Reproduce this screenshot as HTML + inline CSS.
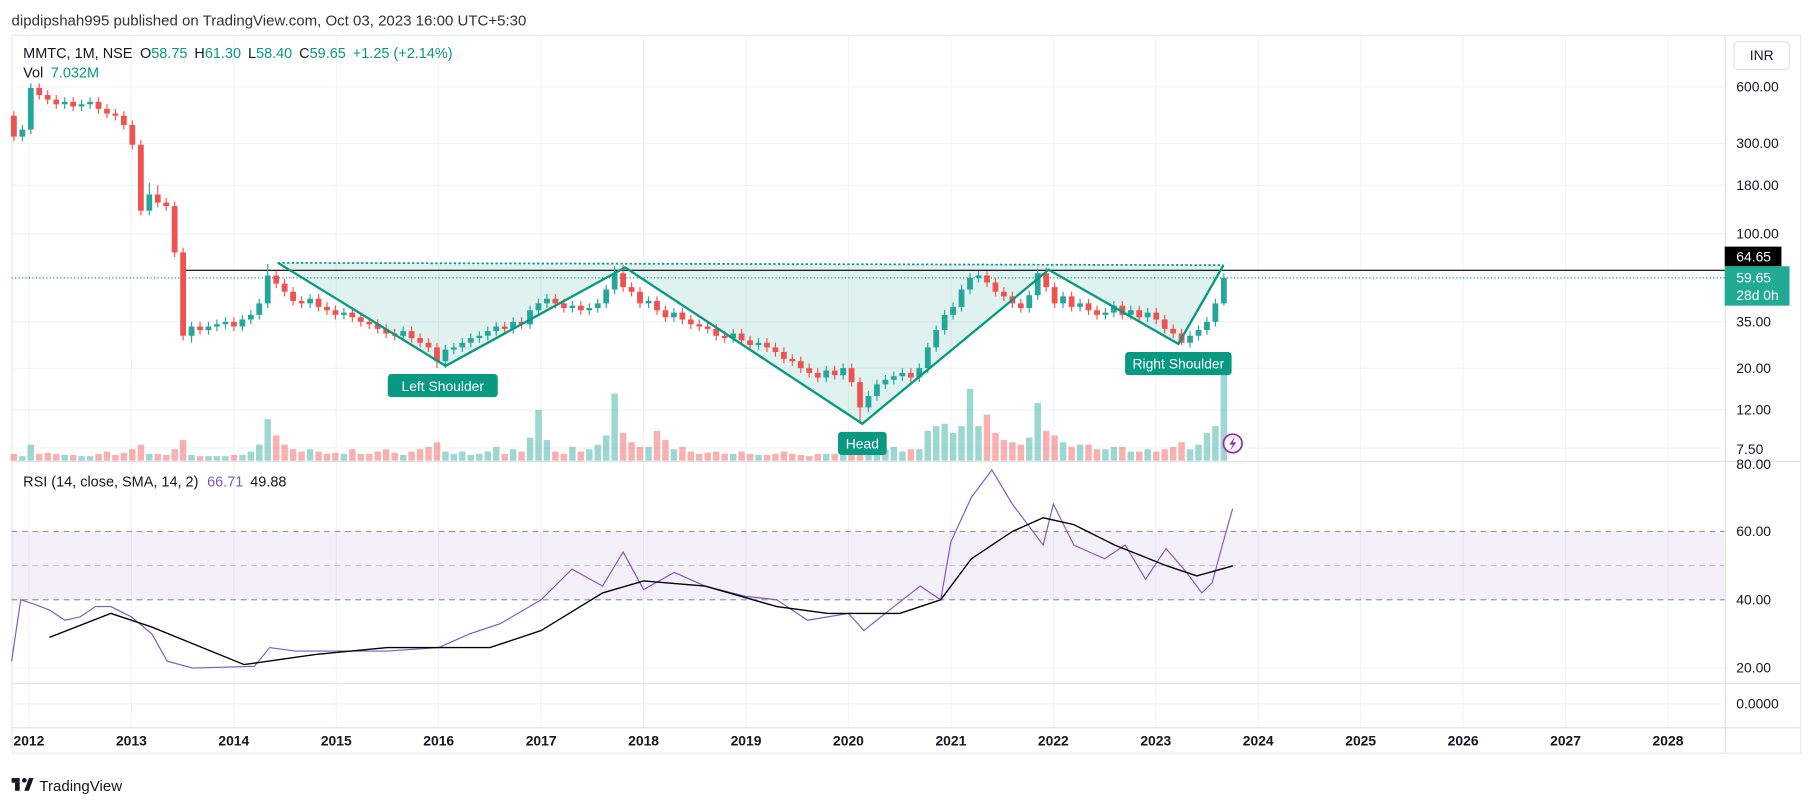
<!DOCTYPE html>
<html><head><meta charset="utf-8"><style>
html,body{margin:0;padding:0;background:#fff;}
svg{display:block;font-family:"Liberation Sans",sans-serif;}
</style></head><body>
<svg width="1815" height="807" viewBox="0 0 1568 697" preserveAspectRatio="none" xmlns="http://www.w3.org/2000/svg">
<rect width="1568" height="697" fill="#fff"/>
<text x="10" y="22" font-size="13" fill="#333">dipdipshah995 published on TradingView.com, Oct 03, 2023 16:00 UTC+5:30</text>
<rect x="10.5" y="30.5" width="1545" height="620" fill="none" stroke="#e6e9ef"/>
<g stroke="#f0f3fa" stroke-width="1">
<path d="M25,30V628M113.5,30V628M202,30V628M290.5,30V628M379,30V628M467.5,30V628M556,30V628M644.5,30V628M733,30V628M821.5,30V628M910,30V628M998.5,30V628M1087,30V628M1175.5,30V628M1264,30V628M1352.5,30V628M1441,30V628"/>
<path d="M10,75H1490M10,124H1490M10,160H1490M10,202H1490M10,278H1490M10,318H1490M10,354H1490M10,387H1490M10,577H1490M10,608H1490"/>
</g>
<rect x="10" y="459" width="1480" height="59" fill="#7e57c2" fill-opacity="0.09"/>
<g stroke="#9598a1" stroke-dasharray="5,4" stroke-width="1">
<line x1="10" y1="459" x2="1490" y2="459"/><line x1="10" y1="488.5" x2="1490" y2="488.5" stroke-opacity="0.5"/><line x1="10" y1="518" x2="1490" y2="518"/>
</g>
<path fill="none" stroke="#26a69a" stroke-opacity="0.45" stroke-width="5.6" d="M19.3,398v-4 M26.6,398v-14 M55.9,398v-5 M70.5,398v-4 M77.8,398v-4 M129,398v-6 M165.5,398v-5 M180.1,398v-4 M187.4,398v-4 M194.8,398v-4 M209.4,398v-5 M216.7,398v-8 M224,398v-14 M231.3,398v-36 M267.9,398v-10 M297.1,398v-6 M348.3,398v-5 M384.8,398v-8 M392.1,398v-6 M399.4,398v-8 M406.7,398v-5 M414.1,398v-6 M421.4,398v-8 M428.7,398v-12 M443.3,398v-10 M457.9,398v-20 M465.2,398v-44 M472.5,398v-18 M494.5,398v-12 M509.1,398v-10 M516.4,398v-14 M523.7,398v-22 M531,398v-58 M560.3,398v-12 M582.2,398v-10 M633.4,398v-6 M655.3,398v-5 M713.8,398v-6 M728.4,398v-8 M750.3,398v-24 M757.6,398v-14 M764.9,398v-10 M772.2,398v-12 M779.6,398v-8 M794.2,398v-10 M801.5,398v-26 M808.8,398v-30 M816.1,398v-32 M823.4,398v-24 M830.7,398v-30 M838,398v-62 M845.3,398v-30 M889.2,398v-20 M896.5,398v-50 M918.4,398v-16 M933.1,398v-14 M955,398v-10 M962.3,398v-12 M976.9,398v-8 M991.5,398v-10 M1028.1,398v-10 M1035.4,398v-14 M1042.7,398v-24 M1050,398v-30 M1057.3,398v-78"/>
<path fill="none" stroke="#ef5350" stroke-opacity="0.45" stroke-width="5.6" d="M12,398v-6 M33.9,398v-6 M41.2,398v-7 M48.6,398v-6 M63.2,398v-5 M85.1,398v-6 M92.4,398v-8 M99.7,398v-5 M107,398v-7 M114.3,398v-10 M121.7,398v-14 M136.3,398v-6 M143.6,398v-5 M150.9,398v-10 M158.2,398v-18 M172.8,398v-4 M202.1,398v-5 M238.6,398v-22 M245.9,398v-14 M253.2,398v-10 M260.5,398v-8 M275.2,398v-8 M282.5,398v-6 M289.8,398v-7 M304.4,398v-10 M311.7,398v-6 M319,398v-6 M326.3,398v-8 M333.6,398v-10 M341,398v-7 M355.6,398v-8 M362.9,398v-10 M370.2,398v-12 M377.5,398v-16 M436,398v-6 M450.6,398v-8 M479.8,398v-8 M487.2,398v-6 M501.8,398v-8 M538.3,398v-24 M545.6,398v-16 M552.9,398v-12 M567.6,398v-26 M574.9,398v-18 M589.5,398v-12 M596.8,398v-8 M604.1,398v-6 M611.4,398v-7 M618.7,398v-8 M626,398v-6 M640.7,398v-8 M648,398v-6 M662.6,398v-5 M669.9,398v-6 M677.2,398v-8 M684.5,398v-6 M691.8,398v-5 M699.1,398v-4 M706.5,398v-6 M721.1,398v-6 M735.7,398v-10 M743,398v-20 M786.9,398v-10 M852.7,398v-40 M860,398v-24 M867.3,398v-18 M874.6,398v-16 M881.9,398v-14 M903.8,398v-26 M911.1,398v-22 M925.8,398v-12 M940.4,398v-14 M947.7,398v-10 M969.6,398v-12 M984.2,398v-8 M998.9,398v-8 M1006.2,398v-10 M1013.5,398v-12 M1020.8,398v-16"/>
<polygon points="240,227 385,316 540,231 745,366 906,233 1018,297 1057,229" fill="#089981" fill-opacity="0.13"/>
<line x1="240" y1="227" x2="1057" y2="229" stroke="#089981" stroke-width="1.5" stroke-dasharray="2,2"/>
<line x1="160" y1="233.5" x2="1490" y2="233.5" stroke="#000" stroke-width="1"/>
<line x1="10" y1="240" x2="1490" y2="240" stroke="#089981" stroke-width="1" stroke-dasharray="1,2"/>
<path fill="none" stroke="#26a69a" stroke-width="1" d="M19.3,108V122 M26.6,72V116 M55.9,84V94 M70.5,86V96 M77.8,84V94 M129,158V186 M165.5,278V296 M180.1,278V289 M187.4,276V286 M194.8,274V284 M209.4,272V286 M216.7,268V280 M224,258V276 M231.3,228V266 M267.9,254V266 M297.1,266V276 M348.3,282V294 M384.8,298V318 M392.1,296V306 M399.4,292V304 M406.7,288V300 M414.1,286V296 M421.4,282V294 M428.7,278V290 M443.3,274V288 M457.9,264V284 M465.2,258V272 M472.5,254V266 M494.5,260V270 M509.1,262V272 M516.4,258V270 M523.7,246V266 M531,230V254 M560.3,256V266 M582.2,266V278 M633.4,284V296 M655.3,292V302 M713.8,316V330 M728.4,314V328 M750.3,338V356 M757.6,328V346 M764.9,324V336 M772.2,321V332 M779.6,318V329 M794.2,314V330 M801.5,296V322 M808.8,281V304 M816.1,268V289 M823.4,261V276 M830.7,246V269 M838,236V254 M845.3,234V244 M889.2,251V270 M896.5,232V259 M918.4,252V266 M933.1,258V269 M955,266V276 M962.3,260V274 M976.9,264V276 M991.5,266V278 M1028.1,286V300 M1035.4,281V294 M1042.7,274V289 M1050,258V282 M1057.3,236V264"/>
<path fill="none" stroke="#26a69a" stroke-width="5" d="M19.3,112V118 M26.6,76V112 M55.9,88V90 M70.5,90V92 M77.8,88V90 M129,168V182 M165.5,282V290 M180.1,282V285 M187.4,280V282 M194.8,278V280 M209.4,276V282 M216.7,272V276 M224,262V272 M231.3,238V262 M267.9,258V262 M297.1,270V272 M348.3,286V290 M384.8,302V312 M392.1,300V302 M399.4,296V300 M406.7,292V296 M414.1,290V292 M421.4,286V290 M428.7,282V286 M443.3,278V284 M457.9,268V280 M465.2,262V268 M472.5,258V262 M494.5,264V266 M509.1,266V268 M516.4,262V266 M523.7,250V262 M531,236V250 M560.3,260V262 M582.2,270V274 M633.4,288V292 M655.3,296V298 M713.8,320V326 M728.4,318V324 M750.3,342V352 M757.6,332V342 M764.9,328V332 M772.2,325V328 M779.6,322V325 M794.2,318V326 M801.5,300V318 M808.8,285V300 M816.1,272V285 M823.4,265V272 M830.7,250V265 M838,240V250 M845.3,238V240 M889.2,255V266 M896.5,236V255 M918.4,256V262 M933.1,262V265 M955,270V272 M962.3,264V270 M976.9,268V272 M991.5,270V274 M1028.1,290V296 M1035.4,285V290 M1042.7,278V285 M1050,262V278 M1057.3,240V262"/>
<path fill="none" stroke="#ef5350" stroke-width="1" d="M12,96V122 M33.9,72V86 M41.2,78V90 M48.6,82V94 M63.2,84V96 M85.1,84V98 M92.4,90V102 M99.7,94V104 M107,96V112 M114.3,104V129 M121.7,121V186 M136.3,160V179 M143.6,171V182 M150.9,174V222 M158.2,214V294 M172.8,278V289 M202.1,274V286 M238.6,234V249 M245.9,241V256 M253.2,248V264 M260.5,256V266 M275.2,254V269 M282.5,261V272 M289.8,264V276 M304.4,266V278 M311.7,270V282 M319,274V284 M326.3,276V288 M333.6,280V292 M341,284V294 M355.6,282V296 M362.9,288V300 M370.2,292V304 M377.5,296V318 M436,278V288 M450.6,274V284 M479.8,254V266 M487.2,258V270 M501.8,260V272 M538.3,229V252 M545.6,244V256 M552.9,248V266 M567.6,256V272 M574.9,264V278 M589.5,266V280 M596.8,272V284 M604.1,276V286 M611.4,278V288 M618.7,280V294 M626,286V296 M640.7,284V298 M648,290V302 M662.6,292V304 M669.9,296V308 M677.2,300V314 M684.5,306V316 M691.8,308V322 M699.1,314V326 M706.5,318V330 M721.1,316V328 M735.7,314V334 M743,326V366 M786.9,318V330 M852.7,234V248 M860,240V256 M867.3,248V260 M874.6,252V266 M881.9,258V270 M903.8,231V252 M911.1,244V266 M925.8,252V269 M940.4,258V272 M947.7,264V276 M969.6,260V276 M984.2,264V278 M998.9,266V280 M1006.2,272V288 M1013.5,280V292 M1020.8,284V298"/>
<path fill="none" stroke="#ef5350" stroke-width="5" d="M12,100V118 M33.9,76V82 M41.2,82V86 M48.6,86V90 M63.2,88V92 M85.1,88V94 M92.4,94V98 M99.7,98V100 M107,100V108 M114.3,108V125 M121.7,125V182 M136.3,168V175 M143.6,175V178 M150.9,178V218 M158.2,218V290 M172.8,282V285 M202.1,278V282 M238.6,238V245 M245.9,245V252 M253.2,252V260 M260.5,260V262 M275.2,258V265 M282.5,265V268 M289.8,268V272 M304.4,270V274 M311.7,274V278 M319,278V280 M326.3,280V284 M333.6,284V288 M341,288V290 M355.6,286V292 M362.9,292V296 M370.2,296V300 M377.5,300V312 M436,282V284 M450.6,278V280 M479.8,258V262 M487.2,262V266 M501.8,264V268 M538.3,236V248 M545.6,248V252 M552.9,252V262 M567.6,260V268 M574.9,268V274 M589.5,270V276 M596.8,276V280 M604.1,280V282 M611.4,282V284 M618.7,284V290 M626,290V292 M640.7,288V294 M648,294V298 M662.6,296V300 M669.9,300V304 M677.2,304V310 M684.5,310V312 M691.8,312V318 M699.1,318V322 M706.5,322V326 M721.1,320V324 M735.7,318V330 M743,330V352 M786.9,322V326 M852.7,238V244 M860,244V252 M867.3,252V256 M874.6,256V262 M881.9,262V266 M903.8,236V248 M911.1,248V262 M925.8,256V265 M940.4,262V268 M947.7,268V272 M969.6,264V272 M984.2,268V274 M998.9,270V276 M1006.2,276V284 M1013.5,284V288 M1020.8,288V296"/>
<polyline points="240,227 385,316 540,231 745,366 906,233 1018,297 1057,229" fill="none" stroke="#089981" stroke-width="2"/>
<rect x="335" y="323" width="95" height="20" rx="3" fill="#089981"/>
<text x="382.5" y="337.5" font-size="12" fill="#fff" text-anchor="middle">Left Shoulder</text>
<rect x="724" y="373" width="42" height="20" rx="3" fill="#089981"/>
<text x="745" y="387.5" font-size="12" fill="#fff" text-anchor="middle">Head</text>
<rect x="972" y="304" width="92" height="20" rx="3" fill="#089981"/>
<text x="1018" y="318.5" font-size="12" fill="#fff" text-anchor="middle">Right Shoulder</text>
<circle cx="1065" cy="383" r="8" fill="#fff" stroke="#9c27b0" stroke-width="1.5"/>
<path d="M1067,377 L1062,384 L1065,384 L1063,389 L1068,382 L1065,382 Z" fill="#9c27b0"/>
<polyline fill="none" stroke="#7e57c2" stroke-width="1" points="10,571.1 17.9,518 30,522 42.7,526.9 56,535.7 69.3,532.8 82.5,523.9 95.8,523.9 113.5,532.8 131.2,547.5 144.5,571.1 166.6,577 219.7,575.5 233,559.3 255.1,562.3 290.5,562.3 334.8,562.3 379,559.3 405.6,547.5 432.1,538.7 467.5,518 494.1,491.5 520.6,506.2 538.3,476.7 556,509.2 582.6,494.4 609.1,506.2 644.5,515.1 671.1,518 697.6,535.7 733,529.8 746.3,544.6 768.4,526.9 795,506.2 812.7,518 821.5,467.9 839.2,429.5 856.9,405.9 874.6,435.4 901.2,470.8 910,435.4 927.7,470.8 954.3,482.6 972,470.8 989.7,500.3 1007.4,473.8 1025.1,494.4 1038.3,512.1 1047.2,503.3 1056,470.8 1064.9,439.2"/>
<polyline fill="none" stroke="#000" stroke-width="1.2" points="42.7,550.5 95.8,529.8 131.2,541.6 210.9,574 272.8,565.2 334.8,559.3 423.3,559.3 467.5,544.6 520.6,512.1 556,501.8 609.1,506.2 671.1,523.9 715.3,529.8 777.3,529.8 812.7,518 839.2,482.6 874.6,459 901.2,447.2 927.7,453.1 963.1,470.8 1007.4,488.5 1033.9,497.4 1064.9,488.8"/>
<line x1="10" y1="398.5" x2="1555" y2="398.5" stroke="#e0e3eb"/>
<line x1="10" y1="590.5" x2="1555" y2="590.5" stroke="#e0e3eb"/>
<line x1="10" y1="628.5" x2="1555" y2="628.5" stroke="#e0e3eb"/>
<line x1="1490.5" y1="30" x2="1490.5" y2="650" stroke="#e0e3eb"/>
<rect x="1498" y="36" width="48" height="24" rx="4" fill="#fff" stroke="#e0e3eb"/>
<text x="1522" y="52" font-size="12" fill="#131722" text-anchor="middle">INR</text>
<g font-size="12" fill="#131722">
<text x="1500" y="79">600.00</text><text x="1500" y="128">300.00</text><text x="1500" y="164">180.00</text><text x="1500" y="206">100.00</text>
<text x="1500" y="282">35.00</text><text x="1500" y="322">20.00</text><text x="1500" y="358">12.00</text><text x="1500" y="392">7.50</text>
<text x="1500" y="405">80.00</text><text x="1500" y="463">60.00</text><text x="1500" y="522">40.00</text><text x="1500" y="581">20.00</text>
<text x="1500" y="612">0.0000</text>
</g>
<rect x="1490" y="213" width="49" height="17" fill="#000"/>
<text x="1500" y="226" font-size="12" fill="#fff">64.65</text>
<rect x="1490" y="230" width="56" height="34" fill="#22ab94"/>
<text x="1500" y="244" font-size="12" fill="#fff">59.65</text>
<text x="1500" y="259" font-size="12" fill="#fff">28d 0h</text>
<g font-size="12" font-weight="bold" fill="#131722" text-anchor="middle">
<text x="25" y="644">2012</text><text x="113.5" y="644">2013</text><text x="202" y="644">2014</text><text x="290.5" y="644">2015</text><text x="379" y="644">2016</text><text x="467.5" y="644">2017</text><text x="556" y="644">2018</text><text x="644.5" y="644">2019</text><text x="733" y="644">2020</text><text x="821.5" y="644">2021</text><text x="910" y="644">2022</text><text x="998.5" y="644">2023</text><text x="1087" y="644">2024</text><text x="1175.5" y="644">2025</text><text x="1264" y="644">2026</text><text x="1352.5" y="644">2027</text><text x="1441" y="644">2028</text>
</g>
<text x="20" y="50" font-size="12.5" fill="#131722">MMTC, 1M, NSE <tspan dx="3">O</tspan><tspan fill="#089981">58.75</tspan><tspan dx="6">H</tspan><tspan fill="#089981">61.30</tspan><tspan dx="6">L</tspan><tspan fill="#089981">58.40</tspan><tspan dx="6">C</tspan><tspan fill="#089981">59.65</tspan><tspan dx="6" fill="#089981">+1.25 (+2.14%)</tspan></text>
<text x="20" y="67" font-size="12.5" fill="#131722">Vol <tspan dx="3" fill="#089981">7.032M</tspan></text>
<text x="20" y="420" font-size="12.5" fill="#131722">RSI (14, close, SMA, 14, 2) <tspan dx="4" fill="#7e57c2">66.71</tspan><tspan dx="6">49.88</tspan></text>
<g transform="translate(10,672)"><rect x="0" y="0" width="7" height="4" fill="#131722"/><rect x="3" y="4" width="4" height="7" fill="#131722"/><circle cx="11" cy="2" r="2" fill="#131722"/><polygon points="11,11 15,0 19,0 15,11" fill="#131722"/></g>
<text x="34" y="683" font-size="13" fill="#131722">TradingView</text>
</svg>
</body></html>
